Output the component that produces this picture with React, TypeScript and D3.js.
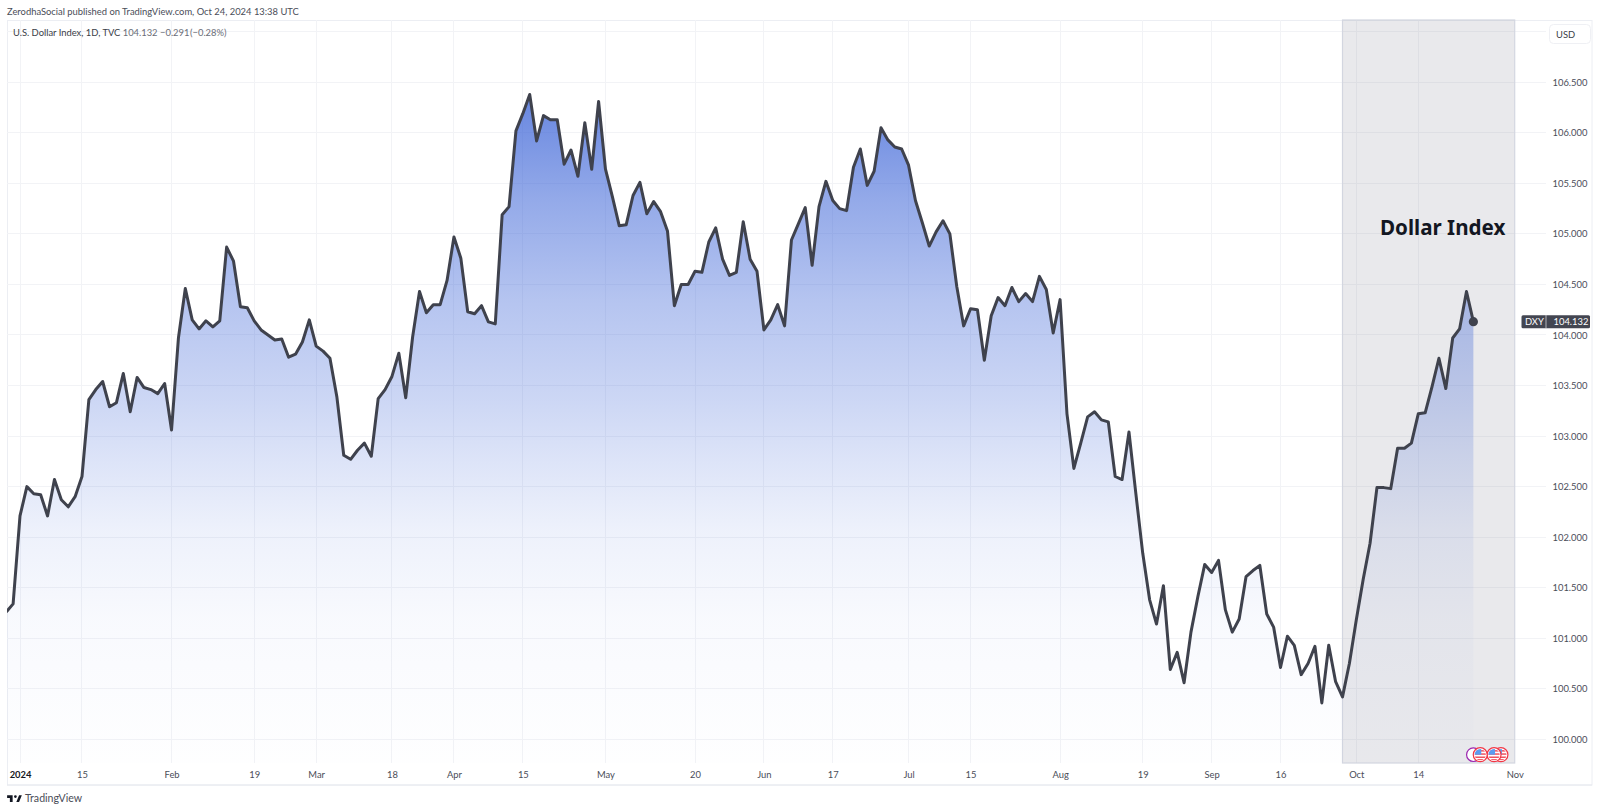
import React, { useEffect, useRef } from 'react';
import * as d3 from 'd3';

// daily closes, first bar is two sessions before 2 Jan
const closesJanMar = [
  101.26, 101.34, 102.21, 102.50, 102.43, 102.42, 102.21, 102.57, 102.37, 102.30, 102.40, 102.60,
  103.36, 103.46, 103.54, 103.29, 103.33, 103.62, 103.24, 103.58, 103.48, 103.46, 103.42, 103.52,
  103.06, 103.97, 104.46, 104.15, 104.06, 104.14, 104.08, 104.14, 104.87, 104.73, 104.28, 104.27,
  104.14, 104.05, 104.00, 103.95, 103.96, 103.78, 103.81, 103.93, 104.15, 103.89, 103.84, 103.77,
  103.39, 102.81, 102.77, 102.86, 102.93, 102.80, 103.37, 103.46, 103.59, 103.82, 103.38, 103.98,
  104.43, 104.22, 104.30, 104.30, 104.54,
];
const closesAprJun = [
  104.97, 104.76, 104.23, 104.21, 104.29, 104.13, 104.11, 105.19, 105.27, 106.02, 106.19, 106.38,
  105.92, 106.17, 106.13, 106.13, 105.69, 105.83, 105.57, 106.10, 105.64, 106.31, 105.64, 105.37,
  105.08, 105.09, 105.38, 105.51, 105.20, 105.32, 105.22, 105.03, 104.29, 104.50, 104.50, 104.63,
  104.62, 104.92, 105.06, 104.75, 104.59, 104.62, 105.12, 104.75, 104.63, 104.05, 104.15, 104.30,
  104.09, 104.94, 105.10, 105.26, 104.69, 105.27, 105.52, 105.33, 105.25, 105.23, 105.66, 105.84,
  105.48, 105.62, 106.05, 105.93, 105.86, 105.84,
];
const closesJulSep = [
  105.68, 105.33, 105.11, 104.88, 105.02, 105.13, 105.00, 104.48, 104.09, 104.26, 104.25, 103.75,
  104.19, 104.37, 104.29, 104.47, 104.33, 104.41, 104.33, 104.58, 104.45, 104.02, 104.35, 103.22,
  102.68, 102.93, 103.19, 103.24, 103.16, 103.14, 102.60, 102.57, 103.04, 102.43, 101.84, 101.38,
  101.14, 101.52, 100.69, 100.86, 100.56, 101.06, 101.41, 101.73, 101.65, 101.77, 101.28, 101.06,
  101.19, 101.61, 101.67, 101.72, 101.24, 101.11, 100.71, 101.02, 100.93, 100.64, 100.75, 100.92,
  100.36, 100.93, 100.57, 100.42,
];
const closesOct = [
  100.75, 101.18, 101.58, 101.94, 102.49, 102.49, 102.48, 102.88, 102.88, 102.93, 103.22, 103.23,
  103.49, 103.77, 103.47, 103.97, 104.06, 104.43, 104.132,
];
const closes = [...closesJanMar, ...closesAprJun, ...closesJulSep, ...closesOct];
const firstBar = -2;

// time axis, bar number counted from 2 Jan
const xTickBars = [0, 9, 22, 34, 43, 54, 63, 73, 85, 98, 108, 118, 129, 138, 151, 163, 173, 183, 194, 203, 217];
const xTickLabels = ['2024', '15', 'Feb', '19', 'Mar', '18', 'Apr', '15', 'May', '20', 'Jun', '17', 'Jul', '15', 'Aug', '19', 'Sep', '16', 'Oct', '14', 'Nov'];
const yTicks = [100, 100.5, 101, 101.5, 102, 102.5, 103, 103.5, 104, 104.5, 105, 105.5, 106, 106.5];

// shaded range and economic event markers
const shadeBars = [192, 217];
const purpleEventBar = 211;
const flagEventBars = [215, 214, 212];

// area fade: [pixel y, alpha]
const fadeStops = [[94, 0.78], [200, 0.55], [300, 0.38], [400, 0.26], [457, 0.18], [530, 0.09], [620, 0.035], [763, 0.005]];

const WIDTH = 1600;
const HEIGHT = 812;
const FONT = 'Lato, sans-serif';
const LINE = '#3f424d';
const SMALL = 9.4;

const App: React.FC = () => {
  const chartRef = useRef<SVGSVGElement>(null);

  useEffect(() => {
    const svg = d3.select(chartRef.current);
    svg.selectAll('*').remove();

    const pane = { left: 7, top: 20, right: 1546, bottom: 763 };
    const x = d3.scaleLinear().domain([0, 217]).range([20, 1514.7]);
    const y = d3.scaleLinear().domain([100, 106.5]).range([739.3, 82.3]);

    const defs = svg.append('defs');
    defs.append('clipPath').attr('id', 'pane').append('rect')
      .attr('x', pane.left).attr('y', pane.top)
      .attr('width', pane.right - pane.left).attr('height', pane.bottom - pane.top);

    const grad = defs.append('linearGradient').attr('id', 'fade')
      .attr('gradientUnits', 'userSpaceOnUse')
      .attr('x1', 0).attr('x2', 0).attr('y1', 94).attr('y2', 763);
    fadeStops.forEach(([py, a]) => {
      grad.append('stop')
        .attr('offset', (py - 94) / (763 - 94))
        .attr('stop-color', '#3c64d7')
        .attr('stop-opacity', a);
    });

    // outer frame
    svg.append('rect').attr('x', 7.5).attr('y', 20.5).attr('width', 1584.5).attr('height', 764.5)
      .attr('fill', '#fff').attr('stroke', '#eceef3');
    svg.append('line').attr('x1', 7).attr('x2', 1592).attr('y1', 785).attr('y2', 785).attr('stroke', '#e6e8ee');

    // grid
    const grid = svg.append('g').attr('stroke', '#f2f3f6').attr('shape-rendering', 'crispEdges');
    d3.range(100, 107.5, 0.5).forEach((v) => {
      grid.append('line').attr('x1', pane.left).attr('x2', pane.right).attr('y1', y(v)).attr('y2', y(v));
    });
    xTickBars.slice(0, -1).forEach((b) => {
      grid.append('line').attr('x1', x(b)).attr('x2', x(b)).attr('y1', pane.top).attr('y2', pane.bottom);
    });

    // shaded box
    svg.append('rect')
      .attr('x', x(shadeBars[0])).attr('y', pane.top)
      .attr('width', x(shadeBars[1]) - x(shadeBars[0])).attr('height', pane.bottom - pane.top)
      .attr('fill', '#7a7e90').attr('fill-opacity', 0.17)
      .attr('stroke', '#d3d6e0').attr('stroke-width', 1.2);

    const series = closes.map((c, i) => ({ bar: i + firstBar, close: c }));
    const plot = svg.append('g').attr('clip-path', 'url(#pane)');

    const area = d3.area<{ bar: number; close: number }>()
      .x((d) => x(d.bar)).y0(pane.bottom).y1((d) => y(d.close));
    plot.append('path').datum(series).attr('d', area).attr('fill', 'url(#fade)');

    const line = d3.line<{ bar: number; close: number }>()
      .x((d) => x(d.bar)).y((d) => y(d.close));
    plot.append('path').datum(series).attr('d', line)
      .attr('fill', 'none').attr('stroke', LINE).attr('stroke-width', 3).attr('stroke-linejoin', 'round');

    const last = series[series.length - 1];
    plot.append('circle').attr('cx', x(last.bar)).attr('cy', y(last.close)).attr('r', 4.6).attr('fill', LINE);

    // event markers
    const markerY = 754.7;
    const markers = svg.append('g');
    markers.append('circle').attr('cx', x(purpleEventBar)).attr('cy', markerY).attr('r', 6.8)
      .attr('fill', '#fff').attr('stroke', '#9c27b0').attr('stroke-width', 1.2);
    flagEventBars.forEach((b, k) => {
      const f = markers.append('g').attr('transform', `translate(${x(b)},${markerY})`);
      const id = `flag${k}`;
      defs.append('clipPath').attr('id', id).append('circle').attr('r', 5.6);
      f.append('circle').attr('r', 7).attr('fill', '#fff').attr('stroke', '#f23645').attr('stroke-width', 1.2);
      const inner = f.append('g').attr('clip-path', `url(#${id})`);
      inner.append('rect').attr('x', -6).attr('y', -6).attr('width', 12).attr('height', 12).attr('fill', '#fff');
      [-4.6, -1.4, 1.8, 4.4].forEach((sy) => {
        inner.append('rect').attr('x', -6).attr('y', sy).attr('width', 12).attr('height', 1.5).attr('fill', '#f0525f');
      });
      inner.append('rect').attr('x', -6).attr('y', -6).attr('width', 7).attr('height', 6).attr('fill', '#5b9cf0');
    });

    // y axis
    const yAxis = svg.append('g').attr('transform', 'translate(1552.5,0)')
      .call(d3.axisRight(y).tickValues(yTicks).tickSize(0).tickPadding(0).tickFormat((v) => d3.format('.3f')(v as number)));
    yAxis.select('.domain').remove();
    yAxis.selectAll('text').attr('font-family', FONT).attr('font-size', SMALL).attr('fill', '#4a4d58');

    // x axis
    const xAxis = svg.append('g').attr('transform', `translate(0,${pane.bottom})`)
      .call(d3.axisBottom(x).tickValues(xTickBars).tickSize(0).tickPadding(8.5)
        .tickFormat((_, i) => xTickLabels[i]));
    xAxis.select('.domain').remove();
    xAxis.selectAll('text').attr('font-family', FONT).attr('font-size', SMALL)
      .attr('font-weight', (_, i) => (i === 0 ? 700 : 400))
      .attr('fill', (_, i) => (i === 0 ? '#131722' : '#4a4d58'));

    const text = (tx: number, ty: number, s: string, size: number, fill: string, weight = 400) =>
      svg.append('text').attr('x', tx).attr('y', ty).text(s)
        .attr('font-family', FONT).attr('font-size', size).attr('fill', fill).attr('font-weight', weight);

    text(7, 15, 'ZerodhaSocial published on TradingView.com, Oct 24, 2024 13:38 UTC', SMALL, '#4a4d58');
    text(13, 35.5, 'U.S. Dollar Index, 1D, TVC', SMALL, '#3a3d47');
    text(122.7, 35.5, '104.132', SMALL, '#6a6d78');
    text(160, 35.5, '\u22120.291', SMALL, '#6a6d78');
    text(190, 35.5, '(\u22120.28%)', SMALL, '#6a6d78');

    // USD button
    svg.append('rect').attr('x', 1549.5).attr('y', 24.5).attr('width', 41).attr('height', 19).attr('rx', 4)
      .attr('fill', '#fff').attr('stroke', '#eff0f4');
    text(1556, 37.5, 'USD', SMALL, '#3a3d47');

    svg.append('text').attr('x', 1380).attr('y', 235).text('Dollar Index')
      .attr('font-family', '"Noto Sans", sans-serif').attr('font-size', 20.6).attr('fill', '#131722').attr('font-weight', 700);

    // price tag on the axis
    const tagY = y(last.close);
    svg.append('rect').attr('x', 1521.5).attr('y', tagY - 6.5).attr('width', 68.5).attr('height', 13).attr('rx', 1.5).attr('fill', '#434651');
    svg.append('line').attr('x1', 1546).attr('x2', 1546).attr('y1', tagY - 6.5).attr('y2', tagY + 6.5).attr('stroke', '#fff').attr('stroke-opacity', 0.6);
    text(1525, tagY + 3.4, 'DXY', SMALL, '#fff');
    text(1553.5, tagY + 3.4, '104.132', SMALL, '#fff');

    // TradingView mark
    svg.append('path')
      .attr('d', 'M14 6H2v6h6v9h6V6Zm14 15h-6l6-15h6l-6 15Zm-8-9a3 3 0 1 0 0-6 3 3 0 0 0 0 6Z')
      .attr('transform', 'translate(6.2,792.4) scale(0.46)')
      .attr('fill', '#131722');
    text(25, 802, 'TradingView', 10.6, '#4a4d58');
  }, []);

  return (
    <svg ref={chartRef} width={WIDTH} height={HEIGHT} style={{ position: 'absolute', left: 0, top: 0, display: 'block' }} />
  );
};

export default App;
